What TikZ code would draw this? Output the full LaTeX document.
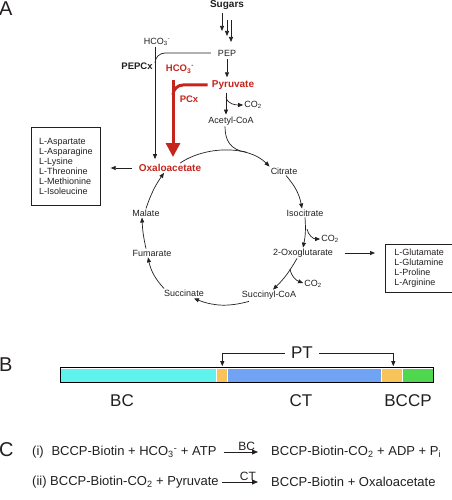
\documentclass[tikz,border=0pt]{standalone}
\usepackage{fontspec}
\setmainfont{Liberation Sans}
\usepackage{xcolor}
\usetikzlibrary{arrows.meta,positioning}

\definecolor{ink}{RGB}{35,31,32}
\definecolor{pcred}{RGB}{196,38,30}
\definecolor{bccyan}{RGB}{96,243,238}
\definecolor{ctblue}{RGB}{113,163,244}
\definecolor{linkorange}{RGB}{248,196,90}
\definecolor{bccpgreen}{RGB}{79,216,79}

\newcommand{\hcoion}{HCO\textsubscript{3}\textsuperscript{-}}
\newcommand{\cotwo}{CO\textsubscript{2}}

\begin{document}
\begin{tikzpicture}[
  x=1pt, y=-1pt,
  met/.style={font=\fontsize{9}{10}\selectfont, text=ink, inner sep=1pt},
  keymet/.style={font=\fontsize{10}{12}\selectfont\bfseries, text=pcred, inner sep=1pt},
  enz/.style={font=\fontsize{9.5}{11}\selectfont\bfseries, inner sep=1pt},
  aalist/.style={draw=ink, line width=0.7pt, font=\fontsize{9}{10}\selectfont, text=ink, align=left, inner xsep=7pt},
  panel/.style={font=\fontsize{20}{22}\selectfont, text=ink, inner sep=0pt, anchor=west},
  conv/.style={draw=ink, line width=0.7pt, -{Triangle[length=5pt,width=4pt]}},
  plain/.style={draw=ink, line width=0.7pt},
  pcline/.style={draw=pcred, line width=3pt},
  seg/.style={draw=white, line width=0.6pt, inner sep=0pt, minimum height=14pt, anchor=west},
  domlbl/.style={font=\fontsize{17}{19}\selectfont, text=ink, inner sep=1pt},
  eqn/.style={font=\fontsize{13}{15}\selectfont, text=ink, inner sep=1pt, anchor=west},
  rxn/.style={draw=ink, line width=0.8pt, -{Triangle[length=6pt,width=5pt]}},
  enzlbl/.style={font=\fontsize{12}{13}\selectfont, text=ink, inner sep=0.5pt, above}
]
\useasboundingbox (0,0) rectangle (451,500);

% panel A
\node[panel] (pa) at (-1,9) {A};
\node[met, font=\fontsize{10}{12}\selectfont\bfseries] (sugars) at (227,5) {Sugars};
\node[met] (pep) at (227,53) {PEP};
\node[keymet] (pyr) at (233,85) {Pyruvate};
\node[met] (acoa) at (231,121) {Acetyl-CoA};
\node[met] (co2a) at (253,105) {\cotwo};
\node[met] (hcoL) at (157,42) {\hcoion};
\node[enz, text=ink] (pepcx) at (137,66) {PEPCx};
\node[enz, text=pcred] (hcoR) at (180,69) {\hcoion};
\node[enz, text=pcred] (pcx) at (189,99) {PCx};

\node[keymet] (oaa) at (170,168) {Oxaloacetate};
\node[met] (citrate) at (284,171) {Citrate};
\node[met] (isocit) at (305,213) {Isocitrate};
\node[met] (co2b) at (330,239) {\cotwo};
\node[met] (oxoglu) at (303,253) {2-Oxoglutarate};
\node[met] (co2c) at (313,284) {\cotwo};
\node[met] (succoa) at (269,295) {Succinyl-CoA};
\node[met] (succ) at (184,293) {Succinate};
\node[met] (fum) at (152,253) {Fumarate};
\node[met] (mal) at (146,213) {Malate};

\node[aalist, anchor=north west, minimum width=69pt, minimum height=78pt] (aspfam) at (31,127)
  {L-Aspartate\\L-Asparagine\\L-Lysine\\L-Threonine\\L-Methionine\\L-Isoleucine};
\node[aalist, anchor=north west, minimum width=65pt, minimum height=48pt, inner xsep=9pt] (glufam) at (385,244)
  {L-Glutamate\\L-Glutamine\\L-Proline\\L-Arginine};

% glycolysis
\foreach \xx/\ya/\yb in {222/13/31, 227/20/36, 231/20/42}
  \draw[conv] (\xx,\ya) -- (\xx,\yb);
\draw[conv, shorten <=2pt, shorten >=2pt] (pep) -- (pyr.north -| pep);
\draw[conv, shorten <=2pt, shorten >=1pt] (pyr.south -| acoa.north) ++(-5,0) -- ([xshift=-5pt]acoa.north);
\draw[conv] (226,97) to[out=-80,in=180] (co2a.west);

% PEP carboxylase
\draw[plain, shorten <=6pt] (pep.west) -- (165,53) to[out=180,in=90] (155,63);
\draw[conv, shorten >=4pt] ([xshift=-2pt]hcoL.south) -- ([xshift=-2pt]hcoL.south |- oaa.north);

% pyruvate carboxylase
\draw[pcline, shorten <=3pt] (pyr.west) -- (183,85) to[out=180,in=90] (173,95);
\draw[pcline, -{Triangle[length=14pt,width=14pt]}] (173,80) -- (173,157);

% TCA cycle
\draw[conv] ([xshift=10pt]oaa.north) .. controls (205,146) and (248,145) .. (citrate.north west);
\draw[plain] ([xshift=-6pt]acoa.south) .. controls (225,140) and (230,150) .. (246,152);
\draw[conv] ([xshift=2pt]citrate.south) to[bend left=15] ([xshift=-3pt]isocit.north);
\draw[conv] (isocit.south) to[bend left=8] (oxoglu.north);
\draw[conv] (307,229) to[out=-80,in=180] (co2b.west);
\draw[conv] ([xshift=-6pt]oxoglu.south) to[bend left=8] ([xshift=4pt]succoa.north);
\draw[conv] (290,269) to[out=-80,in=160] ([yshift=1pt]co2c.west);
\draw[conv] ([xshift=-20pt,yshift=-1pt]succoa.south) to[bend left=18] ([xshift=10pt,yshift=-1pt]succ.south);
\draw[conv] ([xshift=-20pt]succ.north) to[bend left=15] ([xshift=-4pt]fum.south);
\draw[conv] ([xshift=-6pt]fum.north) to[bend left=5] ([xshift=-4pt]mal.north |- mal.south);
\draw[conv] (mal.north) to[bend left=8] ([xshift=-6pt]oaa.south);

% amino acid families
\draw[conv, shorten <=6pt, shorten >=10pt] (oaa.west) -- (aspfam.east |- oaa.west);
\draw[conv, shorten <=11pt, shorten >=10pt] (oxoglu.east) -- (glufam.west |- oxoglu.east);

% panel B
\node[panel] (pb) at (-1,365) {B};
\node[seg, fill=bccyan, minimum width=156pt] (bcseg) at (60,375) {};
\node[seg, fill=linkorange, minimum width=11pt] (linka) at (216,375) {};
\node[seg, fill=ctblue, minimum width=154pt] (ctseg) at (227,375) {};
\node[seg, fill=linkorange, minimum width=21pt] (linkb) at (381,375) {};
\node[seg, fill=bccpgreen, minimum width=31pt] (bccpseg) at (402,375) {};
\draw[line width=0.8pt] (bcseg.north west) rectangle (bccpseg.south east);

\node[domlbl, fill=white, inner xsep=6pt] (pt) at (302,353) {PT};
\draw[conv] (pt.west) -| ([xshift=0.5pt,yshift=1.5pt]linka.north);
\draw[conv] (pt.east) -| ([xshift=1.5pt,yshift=1.5pt]linkb.north);
\node[domlbl] (bclbl) at (122,401) {BC};
\node[domlbl] (ctlbl) at (301,401) {CT};
\node[domlbl] (bccplbl) at (408,401) {BCCP};

% panel C
\node[panel] (pc) at (-1,450) {C};
\node[eqn] (lhsi) at (31,452) {(i)\hspace{0.6em}BCCP-Biotin + \hcoion{} + ATP};
\node[eqn] (rhsi) at (270,452) {BCCP-Biotin-\cotwo{} + ADP + P\textsubscript{i}};
\node[eqn] (lhsii) at (31,482) {(ii) BCCP-Biotin-\cotwo{} + Pyruvate};
\node[eqn] (rhsii) at (270,482) {BCCP-Biotin + Oxaloacetate};
\draw[rxn, shorten <=6pt, shorten >=12pt] (lhsi.east) -- node[enzlbl, xshift=3pt] {BC} (lhsi.east -| rhsi.west);
\draw[rxn, shorten <=2pt, shorten >=12pt] (lhsii.east) -- node[enzlbl, xshift=3pt] {CT} (lhsii.east -| rhsii.west);
\end{tikzpicture}
\end{document}
